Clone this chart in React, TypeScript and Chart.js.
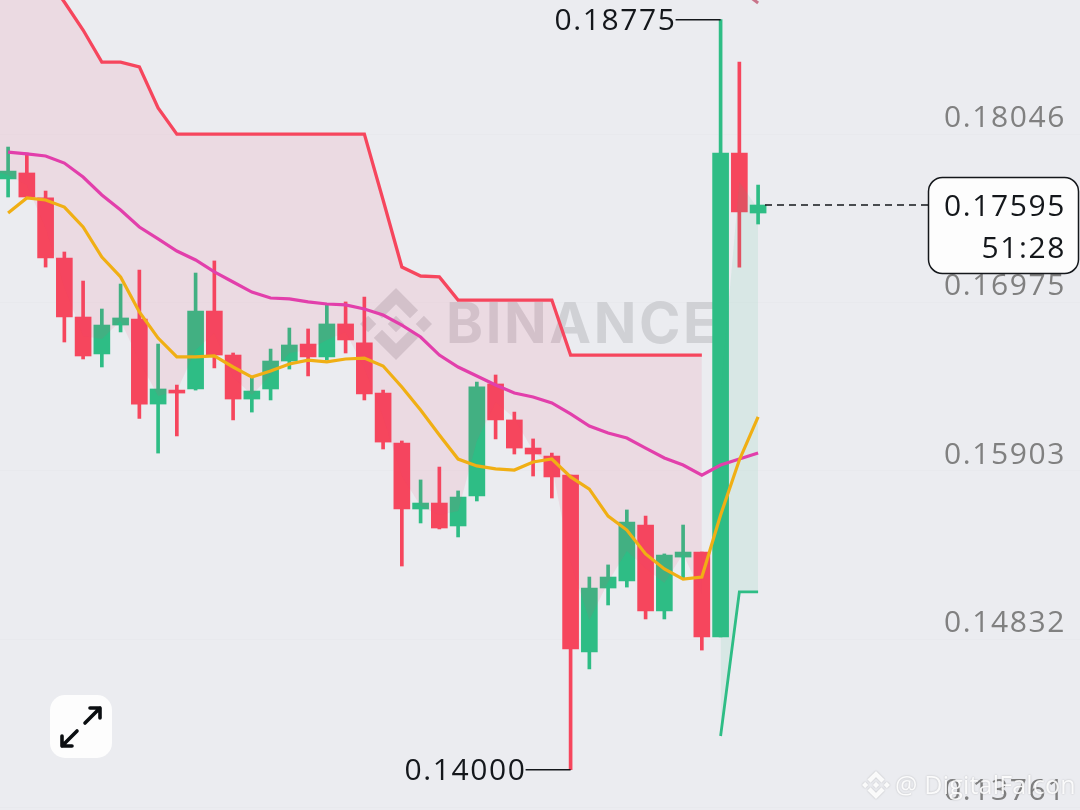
import React, { useEffect, useRef } from "react";
import { Chart, registerables } from "chart.js";

Chart.register(...registerables);

const opens = [0.17761,0.17799,0.1764,0.17258,0.16882,0.16647,0.16831,0.16869,0.16328,0.16417,0.16424,0.1692,0.1664,0.1636,0.16424,0.16602,0.1671,0.16628,0.16838,0.16717,0.16398,0.1608,0.1566,0.15698,0.15552,0.15743,0.16456,0.16227,0.16048,0.15997,0.15876,0.1475,0.15157,0.15202,0.15558,0.15011,0.15354,0.15386,0.14845,0.17926,0.17544];
const closes = [0.17811,0.17646,0.17258,0.16882,0.16634,0.16831,0.16876,0.16328,0.16424,0.16398,0.1692,0.1664,0.1636,0.16411,0.16602,0.16704,0.16628,0.16838,0.16736,0.16392,0.16086,0.1566,0.15698,0.15539,0.15736,0.16437,0.16227,0.16048,0.1601,0.15864,0.14769,0.15157,0.15227,0.15577,0.15011,0.15367,0.15386,0.14845,0.17926,0.17551,0.17595];
const highs = [0.17964,0.17926,0.17684,0.17296,0.17111,0.16933,0.17092,0.17181,0.1671,0.16449,0.17162,0.17239,0.16653,0.16494,0.16678,0.16812,0.16806,0.16959,0.16978,0.17009,0.16417,0.16093,0.15845,0.15927,0.15775,0.16468,0.16513,0.16277,0.16106,0.16016,0.15876,0.15227,0.15304,0.15654,0.15615,0.15374,0.15558,0.15386,0.18775,0.18505,0.17722];
const lows = [0.17646,0.1764,0.172,0.16723,0.16615,0.16564,0.16787,0.16237,0.16016,0.16125,0.16417,0.16558,0.16227,0.16277,0.16354,0.16551,0.16507,0.16608,0.16653,0.16354,0.16042,0.15297,0.15571,0.15533,0.15482,0.15711,0.16106,0.1601,0.1587,0.1573,0.14,0.14642,0.15049,0.15163,0.1496,0.1496,0.15221,0.14762,0.14845,0.172,0.17474];

const maFast = [0.17544,0.1764,0.17627,0.17582,0.17455,0.17264,0.17137,0.16914,0.16748,0.16628,0.16628,0.16634,0.16564,0.165,0.16538,0.16583,0.16608,0.16596,0.16615,0.16621,0.1657,0.16437,0.1629,0.16131,0.15978,0.15934,0.15915,0.15908,0.15959,0.15978,0.15864,0.15787,0.15615,0.15526,0.15374,0.15278,0.15214,0.15227,0.15622,0.15972,0.16246];
const maSlow = [0.17932,0.1792,0.17907,0.17862,0.17773,0.17659,0.17563,0.17455,0.17379,0.17302,0.17245,0.17169,0.17105,0.17041,0.17003,0.16997,0.16978,0.16965,0.16959,0.16933,0.16895,0.16831,0.16755,0.1664,0.16564,0.16507,0.16449,0.16398,0.16373,0.16335,0.16265,0.16188,0.16144,0.16112,0.16048,0.15985,0.1594,0.15876,0.1594,0.15978,0.16016];

// These three start one candle earlier, off the left edge of the picture.
const upperBand = [0.19791,0.19537,0.19282,0.19059,0.18887,0.18709,0.18505,0.18505,0.18474,0.18213,0.18046,0.18046,0.18046,0.18046,0.18046,0.18046,0.18046,0.18046,0.18046,0.18046,0.18046,0.17627,0.172,0.17143,0.17137,0.1699,0.1699,0.1699,0.1699,0.1699,0.1699,0.1664,0.1664,0.1664,0.1664,0.1664,0.1664,0.1664,0.1664,null,null,null];
const lowerBand = [null,null,null,null,null,null,null,null,null,null,null,null,null,null,null,null,null,null,null,null,null,null,null,null,null,null,null,null,null,null,null,null,null,null,null,null,null,null,null,0.14215,0.15132,0.15132];
const bandMid = [0.17818,0.17786,0.17722,0.17449,0.17073,0.16761,0.16742,0.16857,0.16602,0.16379,0.16411,0.16672,0.1678,0.165,0.16386,0.16513,0.16653,0.16672,0.16736,0.16787,0.16558,0.16246,0.1587,0.15679,0.15622,0.15647,0.16093,0.16341,0.16237,0.16029,0.15934,0.15323,0.14953,0.15195,0.15393,0.15284,0.15189,0.15374,0.15119,0.16392,0.17741,0.1757];
const newUpperIndex = [39, 40];
const newUpperValues = [0.1897, 0.18881];

const yTickValues = [0.18046, 0.16975, 0.15903, 0.14832, 0.13761];
const highLabel = "0.18775";
const highValue = 0.18775;
const highIndex = 38;
const lowLabel = "0.14000";
const lowValue = 0.14;
const lowIndex = 30;
const priceLabel = "0.17595";
const priceValue = 0.17595;
const countdownLabel = "51:28";
const watermarkBrand = "BINANCE";
const watermarkAuthor = "@ DigitalFalcon";

const RED = "#F6465D";
const GREEN = "#2EBD85";
const BG = "#EBECF0";
const FONT = "'Open Sans', Inter, sans-serif";
const BRAND_FONT = "Inter, 'Open Sans', sans-serif";
const SPACING = "1.6px";
const LOGO = "M38.73 53.2l24.59-24.58 24.6 24.6 14.3-14.31L63.32 0l-38.9 38.9zM0 63.31l14.3-14.31 14.31 14.31-14.31 14.3zM38.73 73.41l24.59 24.59 24.6-24.6 14.31 14.29-38.9 38.91-38.91-38.88-.02-.02zM98 63.31l14.3-14.31 14.31 14.31-14.31 14.3zM77.83 63.3L63.32 48.78 52.59 59.51l-1.24 1.23-2.54 2.54 14.51 14.5 14.51-14.47z";

function logo(ctx: CanvasRenderingContext2D, x: number, y: number, size: number, color: string) {
  ctx.save();
  ctx.translate(x, y);
  ctx.scale(size / 126.61, size / 126.61);
  ctx.fillStyle = color;
  ctx.fill(new Path2D(LOGO));
  ctx.restore();
}

const brandPlugin = {
  id: "brand",
  beforeDraw(chart: any) {
    (chart.ctx as any).letterSpacing = SPACING;
  },
  beforeDatasetsDraw(chart: any) {
    const ctx = chart.ctx as CanvasRenderingContext2D;
    ctx.save();
    logo(ctx, 360, 288, 72, "#D0D1D5");
    ctx.font = `700 56px ${BRAND_FONT}`;
    ctx.fillStyle = "#D0D1D5";
    ctx.textAlign = "left";
    ctx.textBaseline = "alphabetic";
    (ctx as any).letterSpacing = "2.6px";
    ctx.fillText(watermarkBrand, 446, 343);
    ctx.restore();
  },
};

const overlayPlugin = {
  id: "overlay",
  afterDatasetsDraw(chart: any) {
    const ctx = chart.ctx as CanvasRenderingContext2D;
    const xs = chart.scales.x;
    const ys = chart.scales.y;
    ctx.save();

    // high / low leaders
    ctx.strokeStyle = "#14171B";
    ctx.lineWidth = 1.5;
    ctx.font = `400 30px ${FONT}`;
    ctx.fillStyle = "#14171B";
    ctx.textAlign = "right";
    ctx.textBaseline = "middle";
    const hx = xs.getPixelForValue(highIndex);
    const hy = ys.getPixelForValue(highValue);
    ctx.beginPath();
    ctx.moveTo(hx - 45, hy);
    ctx.lineTo(hx, hy);
    ctx.stroke();
    ctx.fillText(highLabel, hx - 44, hy + 1.5);
    const lx = xs.getPixelForValue(lowIndex);
    const ly = ys.getPixelForValue(lowValue);
    ctx.beginPath();
    ctx.moveTo(lx - 45, ly);
    ctx.lineTo(lx, ly);
    ctx.stroke();
    ctx.fillText(lowLabel, lx - 44, ly + 1.5);

    // live price line and box
    const py = ys.getPixelForValue(priceValue);
    ctx.setLineDash([7, 5]);
    ctx.beginPath();
    ctx.moveTo(765, py);
    ctx.lineTo(928, py);
    ctx.stroke();
    ctx.setLineDash([]);
    ctx.beginPath();
    ctx.roundRect(928.5, 177.5, 150, 96, 14);
    ctx.fillStyle = "#FDFDFD";
    ctx.fill();
    ctx.strokeStyle = "#14171B";
    ctx.lineWidth = 1.5;
    ctx.stroke();
    ctx.fillStyle = "#14171B";
    ctx.fillText(priceLabel, 1066, py + 2);
    ctx.fillText(countdownLabel, 1066, 249);

    // expand button
    ctx.beginPath();
    ctx.roundRect(50, 695, 62, 63, 15);
    ctx.fillStyle = "#FDFDFD";
    ctx.fill();
    ctx.strokeStyle = "#0B0E11";
    ctx.lineWidth = 3.6;
    ctx.lineCap = "round";
    ctx.lineJoin = "round";
    ctx.beginPath();
    ctx.moveTo(85, 723);
    ctx.lineTo(100, 708);
    ctx.moveTo(90, 708);
    ctx.lineTo(100, 708);
    ctx.lineTo(100, 718);
    ctx.moveTo(77, 731);
    ctx.lineTo(62, 746);
    ctx.moveTo(62, 736);
    ctx.lineTo(62, 746);
    ctx.lineTo(72, 746);
    ctx.stroke();

    // author watermark
    ctx.shadowColor = "rgba(0,0,0,0.25)";
    ctx.shadowBlur = 2;
    logo(ctx, 862, 771, 28, "rgba(255,255,255,0.92)");
    ctx.font = `400 25px ${FONT}`;
    ctx.fillStyle = "rgba(255,255,255,0.9)";
    ctx.textAlign = "left";
    ctx.textBaseline = "alphabetic";
    (ctx as any).letterSpacing = "0.2px";
    ctx.fillText(watermarkAuthor, 895, 794);
    ctx.restore();
  },
};

export default function App() {
  const ref = useRef<HTMLCanvasElement>(null);
  useEffect(() => {
    if (!ref.current) return;
    const idx = opens.map((_, i) => i);
    const candleColors = idx.map((i) => (closes[i] >= opens[i] ? GREEN : RED));
    const band = (arr: (number | null)[]) => arr.map((y, i) => ({ x: i - 1, y }));
    const line = (arr: number[], color: string, order: number) => ({
      type: "line",
      data: arr.map((y, i) => ({ x: i, y })),
      borderColor: color,
      borderWidth: 3.2,
      pointRadius: 0,
      tension: 0,
      fill: false,
      order,
    });
    const MID = 2;
    const chart = new Chart(ref.current, {
      type: "bar",
      data: {
        datasets: [
          {
            type: "bar",
            data: idx.map((i) => ({ x: i, y: [lows[i], highs[i]] })),
            backgroundColor: candleColors,
            barThickness: 3,
            grouped: false,
            borderWidth: 0,
            order: 8,
          },
          {
            type: "bar",
            data: idx.map((i) => ({ x: i, y: [opens[i], closes[i]] })),
            backgroundColor: candleColors,
            barThickness: 16,
            grouped: false,
            borderWidth: 0,
            order: 7,
          },
          {
            type: "line",
            data: band(bandMid),
            borderColor: "transparent",
            borderWidth: 0,
            pointRadius: 0,
            fill: false,
            order: 6,
          },
          {
            type: "line",
            data: band(upperBand),
            borderColor: RED,
            borderWidth: 3.3,
            pointRadius: 0,
            tension: 0,
            backgroundColor: "rgba(232,64,110,0.105)",
            fill: { target: MID },
            order: 5,
          },
          {
            type: "line",
            data: band(lowerBand),
            borderColor: GREEN,
            borderWidth: 2.8,
            pointRadius: 0,
            tension: 0,
            backgroundColor: "rgba(46,189,133,0.1)",
            fill: { target: MID },
            order: 4,
          },
          {
            type: "line",
            data: newUpperIndex.map((x, i) => ({ x, y: newUpperValues[i] })),
            borderColor: "#C9748A",
            borderWidth: 3,
            pointRadius: 0,
            fill: false,
            order: 3,
          },
          line(maSlow, "#E23FAB", 2),
          line(maFast, "#F0AF14", 1),
        ],
      } as any,
      options: {
        responsive: false,
        devicePixelRatio: 1,
        animation: false,
        layout: { padding: 0 },
        plugins: { legend: { display: false }, tooltip: { enabled: false } },
        scales: {
          x: {
            type: "linear",
            display: false,
            offset: false,
            min: -0.432,
            max: 57.168,
          },
          y: {
            position: "right",
            min: 0.13744,
            max: 0.189,
            beginAtZero: false,
            border: { display: false },
            grid: { color: "rgba(0,0,0,0.012)", drawTicks: false },
            ticks: {
              mirror: true,
              padding: -14,
              labelOffset: -15.5,
              autoSkip: false,
              color: "#808080",
              font: { family: FONT, size: 30, weight: "400" },
              callback: (v: number) => v.toFixed(5),
            },
            afterBuildTicks: (s: any) => {
              s.ticks = yTickValues.map((value) => ({ value }));
            },
            afterFit: (s: any) => {
              s.width = 0;
              s.paddingTop = 0;
              s.paddingBottom = 0;
            },
          },
        },
      } as any,
      plugins: [brandPlugin, overlayPlugin],
    } as any);
    return () => chart.destroy();
  }, []);
  return (
    <div style={{ position: "fixed", left: 0, top: 0, width: 1080, height: 810, background: BG, overflow: "hidden" }}>
      <canvas ref={ref} width={1080} height={810} style={{ display: "block", width: 1080, height: 810 }} />
    </div>
  );
}
